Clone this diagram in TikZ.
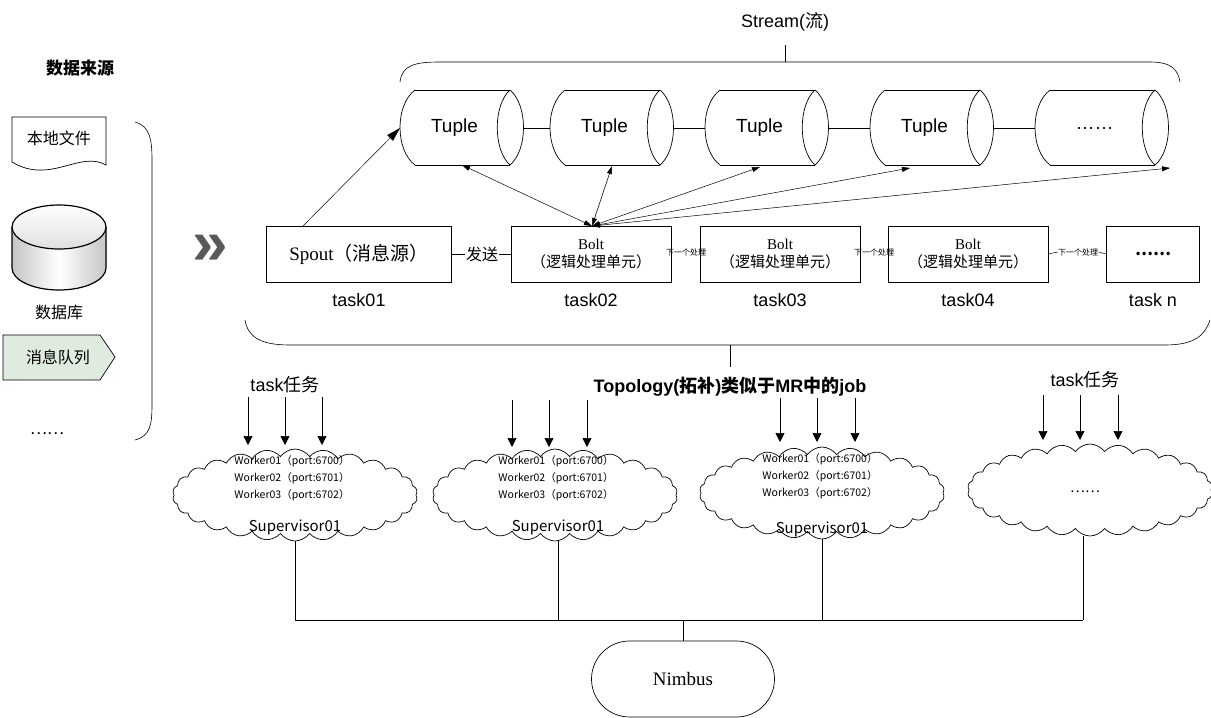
\documentclass[tikz,border=0pt]{standalone}
\usepackage{fontspec}
\setmainfont{Noto Sans CJK SC}
\newfontfamily\serifcjk{Noto Sans CJK SC}
\newfontfamily\lat{Liberation Sans}
\newfontfamily\latserif{Liberation Serif}
\usetikzlibrary{shapes.geometric, shapes.symbols, arrows.meta, calc}
\begin{document}
\begin{tikzpicture}[x=1pt, y=-1pt, line width=0.7pt,
  box/.style={draw, minimum width=160, minimum height=56, inner sep=1, font=\fontsize{15}{18}\selectfont, align=center},
  tup/.style={font=\lat\fontsize{19}{21}\selectfont},
  lbl/.style={font=\lat\fontsize{18}{20}\selectfont},
  nxt/.style={font=\fontsize{8}{9}\selectfont, inner sep=0},
  sup/.style={draw, shape=cloud, cloud puffs=26, cloud puff arc=110, cloud ignores aspect, minimum width=245, minimum height=92},
  wk/.style={font=\fontsize{10.5}{17}\selectfont, align=left},
  dn/.style={-{Triangle[length=9,width=9]}},
  dd/.style={{Triangle[length=8,width=5]}-{Triangle[length=8,width=5]}, line width=0.5pt}]
\useasboundingbox (0,0) rectangle (1211,718);

% data sources
\node[font=\fontsize{17}{19}\selectfont\bfseries] (src) at (80,68) {数据来源};
\draw (12,117) -- (106,117) -- (106,165) .. controls (80,150) and (50,185) .. (12,162) -- cycle;
\node[font=\fontsize{16}{18}\selectfont] (file) at (59,138) {本地文件};
\fill[left color=gray!45, right color=gray!45, middle color=white]
  (12,227) -- (12,268) arc[start angle=180, end angle=0, x radius=47, y radius=22] -- (106,227) -- cycle;
\draw[line width=1.2pt] (12,227) -- (12,268) arc[start angle=180, end angle=0, x radius=47, y radius=22] -- (106,227);
\shade[top color=white, bottom color=gray!25, draw, line width=1.2pt]
  (59,227) ellipse[x radius=47, y radius=22];
\node[font=\fontsize{16}{18}\selectfont] (db) at (59,312) {数据库};
\draw[fill=green!20!gray!20] (3,335) -- (100,335) -- (115,357) -- (100,380) -- (3,380) -- cycle;
\node[font=\fontsize{16}{18}\selectfont] (mq) at (58,357) {消息队列};
\node[font=\fontsize{16}{18}\selectfont] (more) at (47,434) {……};
\draw[line width=0.6pt] (135,122) .. controls (150,126) and (152,140) .. (152,160) -- (152,405) .. controls (152,425) and (150,436) .. (135,440);
\node[text=gray!70!black, font=\lat\fontsize{64}{64}\selectfont\bfseries] (chev) at (210,250) {»};

% stream
\draw[line width=0.6pt] (400,82) .. controls (402,65) and (415,62) .. (440,62) -- (1150,62) .. controls (1172,62) and (1178,70) .. (1180,82);
\coordinate (stc) at (785,62);
\node[lbl] (stream) at (785,22) {Stream(\serifcjk 流\lat)};
\draw[line width=0.6pt] (stc) -- (785,45);
\foreach \i/\xa/\xb/\t in {1/400/525/Tuple, 2/550/675/Tuple, 3/705/830/Tuple, 4/870/995/Tuple, 5/1035/1170/……} {
  \draw (\xa+15,90) -- (\xb-15,90) (\xa+15,165) -- (\xb-15,165);
  \draw (\xa+15,90) .. controls (\xa-5,105) and (\xa-5,150) .. (\xa+15,165);
  \draw (\xb-15,90) .. controls (\xb-32,105) and (\xb-32,150) .. (\xb-15,165);
  \draw (\xb-15,90) .. controls (\xb+3,105) and (\xb+3,150) .. (\xb-15,165);
  \node[tup] (t\i) at ({(\xa+\xb)/2-8},128) {\t};
  \coordinate (tl\i) at (\xa,128);
  \coordinate (tr\i) at (\xb-2,128);
}
\foreach \a/\b in {1/2,2/3,3/4,4/5} \draw[line width=0.5pt] (tr\a) -- (tl\b);

% tasks
\node[box, minimum width=185, font=\fontsize{19}{21}\selectfont] (spout) at (359,254) {\latserif Spout\serifcjk（消息源）};
\node[box] (b1) at (591,254) {\latserif Bolt\\（逻辑处理单元）};
\node[box] (b2) at (780,254) {\latserif Bolt\\（逻辑处理单元）};
\node[box] (b3) at (968,254) {\latserif Bolt\\（逻辑处理单元）};
\node[box, minimum width=93, font=\bfseries\fontsize{16}{18}\selectfont] (bn) at (1153,254) {……};
\node[lbl] (k1) at (359,300) {task01};
\node[lbl] (k2) at (591,300) {task02};
\node[lbl] (k3) at (780,300) {task03};
\node[lbl] (k4) at (968,300) {task04};
\node[lbl] (kn) at (1153,300) {task n};
\node[font=\fontsize{16}{18}\selectfont, inner sep=1] (send) at (482,254) {发送};
\draw[line width=0.5pt] (spout) -- (send) -- (b1);
\node[nxt] (n1) at (686,252) {下一个处理};
\node[nxt] (n2) at (874,252) {下一个处理};
\node[nxt] (n3) at (1078,252) {下一个处理};
\draw[line width=0.5pt] (1048,254) -- (n3.west) (n3.east) -- (bn.west);
\draw[line width=0.5pt, -{Triangle[length=14,width=8]}] ($(spout.north west)!0.2!(spout.north east)$) -- (tl1);
\coordinate (bt) at (592,226);
\foreach \p in {(462,165),(612,166),(760,167),(910,168),(1170,168)}
  \draw[dd] (bt) -- \p;

% topology brace
\draw[line width=0.6pt] (245,320) .. controls (248,338) and (262,345) .. (290,345) -- (1165,345) .. controls (1195,345) and (1205,335) .. (1210,320);
\coordinate (tpc) at (730,345);
\draw[line width=0.6pt] (tpc) -- (730,367);
\node[font=\lat\bfseries\fontsize{18}{20}\selectfont] (topo) at (730,387) {Topology(\serifcjk 拓补\lat)\serifcjk 类似于\lat MR\serifcjk 中的\lat job};
\node[lbl] (tt1) at (285,385) {task\serifcjk 任务};
\node[lbl] (tt2) at (1085,380) {task\serifcjk 任务};

% supervisors
\node[sup] (s1) at (295,495) {};
\node[sup] (s2) at (555,495) {};
\node[sup] (s3) at (822,493) {};
\node[sup] (s4) at (1090,490) {};
\node[wk] (w1) at (292,478) {Worker01（port:6700）\\Worker02（port:6701）\\Worker03（port:6702）};
\node[wk] (w2) at (556,478) {Worker01（port:6700）\\Worker02（port:6701）\\Worker03（port:6702）};
\node[wk] (w3) at (820,476) {Worker01（port:6700）\\Worker02（port:6701）\\Worker03（port:6702）};
\node[font=\fontsize{15}{17}\selectfont] (sv1) at (295,527) {Supervisor01};
\node[font=\fontsize{15}{17}\selectfont] (sv2) at (558,527) {Supervisor01};
\node[font=\fontsize{15}{17}\selectfont] (sv3) at (822,529) {Supervisor01};
\node[font=\fontsize{14}{16}\selectfont] (sv4) at (1085,492) {……};
\foreach \x/\ya/\yb in {248/397/445, 285/397/445, 322/397/445, 512/400/447, 549/400/447, 587/400/447, 780/398/442, 817/398/442, 855/398/442, 1043/395/440, 1080/395/440, 1118/395/440}
  \draw[dn] (\x,\ya) -- (\x,\yb);

% nimbus
\node[draw, rounded corners=38, minimum width=183, minimum height=76, font=\latserif\fontsize{19}{21}\selectfont] (nim) at (683,679) {Nimbus};
\coordinate (j) at (683,620);
\draw[line width=0.6pt] (295,541) -- (295,620) -- (1083,620) (558,541) -- (558,620) (822,539) -- (822,620) (1083,536) -- (1083,620) (j) -- (nim.north);
\end{tikzpicture}
\end{document}
